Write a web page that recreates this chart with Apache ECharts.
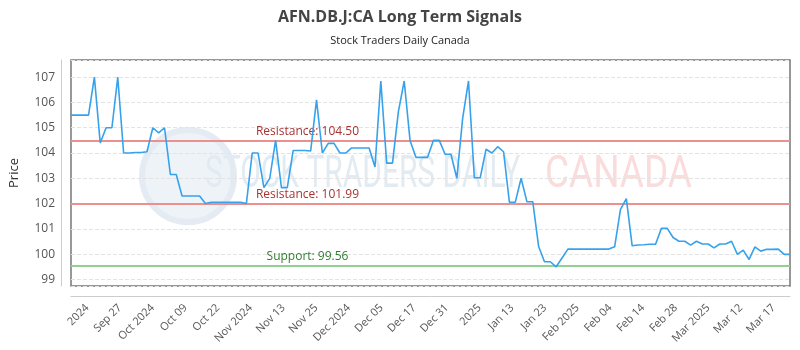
<!DOCTYPE html>
<html>
	<head>
		<meta charset="UTF-8">
		<title></title>
		<script type="text/javascript" src="https://cdn.jsdelivr.net/npm/echarts@6/dist/echarts.min.js"></script>
	</head>
	<body style="margin:0">
		<div id="main" style="width: 800px;height: 350px;"></div>
		<script type="text/javascript">
			// prices, one per trading point
			var prices = [
				105.5, 105.5, 105.5, 105.5, 107.0, 104.4, 105.0, 105.0, 107.0, 104.0,
				104.0, 104.02, 104.02, 104.05, 105.0, 104.8, 105.0, 103.15, 103.15, 102.3,
				102.3, 102.3, 102.3, 102.0, 102.05, 102.05, 102.05, 102.05, 102.05, 102.05,
				102.0, 104.0, 104.0, 102.63, 103.0, 104.5, 102.63, 102.63, 104.1, 104.1,
				104.1, 104.08, 106.1, 104.0, 104.38, 104.38, 104.0, 104.0, 104.2, 104.2,
				104.2, 104.2, 103.45, 106.85, 103.6, 103.6, 105.63, 106.85, 104.5, 103.83,
				103.83, 103.83, 104.5, 104.5, 103.95, 103.95, 103.0, 105.37, 106.85, 103.02,
				103.02, 104.15, 104.0, 104.25, 104.05, 102.05, 102.05, 103.0, 102.07, 102.07,
				100.3, 99.7, 99.7, 99.5, 99.85, 100.2, 100.2, 100.2, 100.2, 100.2,
				100.2, 100.2, 100.2, 100.29, 101.77, 102.2, 100.33, 100.36, 100.37, 100.39,
				100.39, 101.02, 101.02, 100.66, 100.51, 100.51, 100.36, 100.51, 100.4, 100.4,
				100.25, 100.4, 100.4, 100.51, 99.99, 100.16, 99.79, 100.29, 100.12, 100.19,
				100.19, 100.2, 99.99, 99.99
			];
			var tickLabels = ['2024', 'Sep 27', 'Oct 2024', 'Oct 09', 'Oct 22', 'Nov 2024', 'Nov 13', 'Nov 25',
				'Dec 2024', 'Dec 05', 'Dec 17', 'Dec 31', '2025', 'Jan 13', 'Jan 23', 'Feb 2025',
				'Feb 04', 'Feb 14', 'Feb 28', 'Mar 2025', 'Mar 12', 'Mar 17'];
			var resistance1 = 104.50;
			var resistance2 = 101.99;
			var support = 99.56;

			var points = [];
			for (var i = 0; i < prices.length; i++) {
				points.push(String(i));
			}

			var myChart = echarts.init(document.getElementById("main"));
			var font = 'Open Sans';

			option = {
				animation: false,
				title: {
					text: 'AFN.DB.J:CA Long Term Signals',
					subtext: 'Stock Traders Daily Canada',
					left: 'center',
					top: 4,
					itemGap: 10,
					textStyle: {fontFamily: font, fontSize: 16, fontWeight: 'bold', color: '#444'},
					subtextStyle: {fontFamily: font, fontSize: 11, color: '#222'}
				},
				graphic: [
					{type: 'circle', shape: {cx: 188, cy: 176, r: 46}, style: {fill: '#eef3f8', stroke: '#e4ebf2', lineWidth: 6}, z: 0},
					{type: 'text', x: 205, y: 154, scaleX: 0.68, style: {text: 'STOCK TRADERS DAILY', fontSize: 44, fontFamily: 'Roboto', fill: '#e3ebf2'}, z: 0},
					{type: 'text', x: 545, y: 154, scaleX: 0.84, style: {text: 'CANADA', fontSize: 44, fontFamily: 'Roboto', fill: '#fadcdc'}, z: 0}
				],
				grid: {
					left: 67,
					right: 10,
					top: 60,
					bottom: 64,
					show: true,
					borderColor: '#777',
					borderWidth: 1.5
				},
				xAxis: [{
					type: 'category',
					data: points,
					boundaryGap: false,
					show: false
				}, {
					type: 'category',
					data: tickLabels,
					boundaryGap: true,
					position: 'bottom',
					offset: 10,
					axisLine: {lineStyle: {color: '#ccc'}},
					axisTick: {show: false},
					axisLabel: {rotate: 45, interval: 0, fontFamily: font, fontSize: 11, color: '#555', margin: 10},
					splitLine: {show: false}
				}],
				yAxis: {
					type: 'value',
					min: 98.74,
					max: 107.68,
					splitNumber: 8,
					offset: 10,
					name: 'Price',
					nameLocation: 'middle',
					nameGap: 40,
					nameTextStyle: {fontFamily: font, fontSize: 13, color: '#333'},
					axisLine: {show: true, lineStyle: {color: '#ccc'}},
					axisTick: {show: false},
					axisLabel: {
						fontFamily: font, fontSize: 12, color: '#555', margin: 6,
						formatter: function (v) {
							return Math.abs(v - Math.round(v)) < 1e-6 ? String(Math.round(v)) : '';
						}
					},
					splitLine: {lineStyle: {color: '#e3e3e3', type: 'dashed'}}
				},
				series: [{
					type: 'line',
					xAxisIndex: 0,
					data: prices,
					showSymbol: false,
					symbol: 'none',
					lineStyle: {color: '#36a2eb', width: 1.6},
					z: 5,
					markLine: {
						silent: true,
						symbol: 'none',
						animation: false,
						label: {
							position: 'middle',
							distance: 3,
							padding: [0, 246, 0, 0],
							fontFamily: font,
							fontSize: 12
						},
						data: [
							{yAxis: resistance1, lineStyle: {color: '#ec8f8f', width: 2, type: 'solid'},
								label: {formatter: 'Resistance: ' + resistance1.toFixed(2), color: '#a83232'}},
							{yAxis: resistance2, lineStyle: {color: '#ec8f8f', width: 2, type: 'solid'},
								label: {formatter: 'Resistance: ' + resistance2.toFixed(2), color: '#a83232'}},
							{yAxis: support, lineStyle: {color: '#92cf92', width: 2, type: 'solid'},
								label: {formatter: 'Support: ' + support.toFixed(2), color: '#2f7d2f'}}
						]
					}
				}]
			};

			myChart.setOption(option);
		</script>
	</body>
</html>
